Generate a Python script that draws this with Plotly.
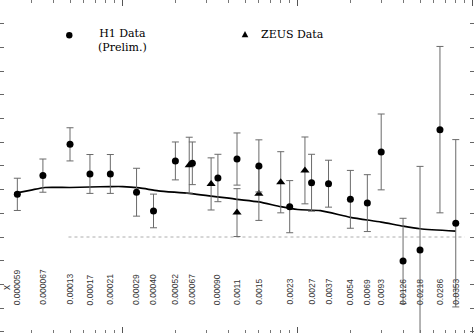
import numpy as np
import plotly.graph_objects as go

# ---------------- data ----------------
# H1 (prelim.) points: Q^2 position, value, symmetric error
h1_q2 = [2.5, 3.5, 5, 6.5, 8.5, 12, 15, 20, 25, 35, 45, 60, 90, 120, 150, 200, 250, 300, 400, 500, 650, 800]
h1_val = [1.80, 2.59, 3.91, 2.66, 2.66, 1.89, 1.10, 3.21, 3.11, 2.49, 3.29, 3.00, 1.28, 2.29, 2.25, 1.59, 1.43, 3.59, -1.01, -0.55, 4.53, 0.58]
h1_err = [0.68, 0.70, 0.70, 0.82, 0.82, 1.01, 0.71, 0.80, 0.90, 1.00, 1.10, 1.10, 1.10, 1.20, 0.99, 1.22, 1.20, 1.60, 1.80, 3.53, 3.51, 3.53]

# x (Bjorken) labels for each H1 bin
x_labels = ["0.000059", "0.000067", "0.00013", "0.00017", "0.00021", "0.00029", "0.00040",
            "0.00052", "0.00067", "0.00090", "0.0011", "0.0015", "0.0023", "0.0027", "0.0037",
            "0.0054", "0.0069", "0.0093", "0.0126", "0.0218", "0.0286", "0.0353"]

# ZEUS points
zeus_q2 = [24, 32, 45, 60, 80, 110]
zeus_val = [3.03, 2.24, 1.03, 1.83, 2.31, 2.81]
zeus_err = [1.18, 1.10, 1.01, 1.13, 1.29, 1.41]

# model curve
curve_q2 = [2.4, 3.0, 3.6, 5, 6.5, 8.5, 10, 12.5, 16, 24, 45, 60, 80, 100, 135, 200, 300, 400, 500, 800]
curve_val = [1.84, 1.98, 2.09, 2.09, 2.11, 2.13, 2.13, 2.07, 1.95, 1.84, 1.59, 1.48, 1.28, 1.16, 1.11, 0.83, 0.63, 0.46, 0.35, 0.25]

# dotted reference line
ref_q2 = [4.9, 900]
ref_val = [0, 0]

# axis ticks
x_major = [10, 100, 1000]
x_minor = [m * d for d in (1, 10, 100) for m in range(2, 10)]

W, H = 474, 333
ERRC = "#6a6a6a"

fig = go.Figure()

fig.add_trace(go.Scatter(x=ref_q2, y=ref_val, mode="lines",
                         line=dict(color="#999999", width=0.8, dash="dot"),
                         hoverinfo="skip", showlegend=False))

fig.add_trace(go.Scatter(x=curve_q2, y=curve_val, mode="lines",
                         line=dict(color="black", width=1.7, shape="spline", smoothing=0.6),
                         showlegend=False))

fig.add_trace(go.Scatter(x=zeus_q2, y=zeus_val, mode="markers",
                         marker=dict(symbol="triangle-up", size=8, color="black"),
                         error_y=dict(type="data", array=zeus_err, color=ERRC, thickness=1, width=3.5),
                         showlegend=False))

fig.add_trace(go.Scatter(x=h1_q2, y=h1_val, mode="markers",
                         marker=dict(symbol="circle", size=7, color="black"),
                         error_y=dict(type="data", array=h1_err, color=ERRC, thickness=1, width=3.5),
                         showlegend=False))

# x-bin labels (rotated)
lab_font = dict(family="Liberation Sans, Arial, sans-serif", size=8.5, color="#333333")
for q, t in zip(h1_q2, x_labels):
    fig.add_annotation(x=np.log10(q), y=-2.95, xref="x", yref="y", text=t, showarrow=False,
                       textangle=-90, xanchor="center", yanchor="bottom", font=lab_font)
fig.add_annotation(x=7 / W, y=-2.15, xref="paper", yref="y", text="x", showarrow=False,
                   textangle=-90, xanchor="center", yanchor="middle",
                   font=dict(family="Liberation Sans, Arial, sans-serif", size=10, color="#333333"))

# legend (drawn manually)
leg_font = dict(family="DejaVu Serif, serif", size=11, color="black")
fig.add_annotation(x=122.5 / W, y=1 - 40.7 / H, xref="paper", yref="paper", text="H1 Data<br>(Prelim.)",
                   showarrow=False, xanchor="center", yanchor="middle", align="center", font=leg_font)
fig.add_annotation(x=292.5 / W, y=1 - 35 / H, xref="paper", yref="paper", text="ZEUS Data",
                   showarrow=False, xanchor="center", yanchor="middle", font=leg_font)

cx, cy, r = 69.3, 35.3, 3.2
fig.add_shape(type="circle", xref="paper", yref="paper",
              x0=(cx - r) / W, x1=(cx + r) / W, y0=1 - (cy + r) / H, y1=1 - (cy - r) / H,
              fillcolor="black", line=dict(color="black", width=0))
tx, ty = 245, 34.3
fig.add_shape(type="path", xref="paper", yref="paper",
              path=f"M {(tx-3.3)/W} {1-(ty+3)/H} L {(tx+3.3)/W} {1-(ty+3)/H} L {tx/W} {1-(ty-3.2)/H} Z",
              fillcolor="black", line=dict(color="black", width=0))

fig.update_layout(
    width=W, height=H,
    margin=dict(l=0, r=0, t=0, b=0),
    paper_bgcolor="white", plot_bgcolor="white",
    showlegend=False,
    xaxis=dict(type="log", range=[0.2989, 3.0074], showgrid=False, zeroline=False,
               showline=False, showticklabels=False,
               tickmode="array", tickvals=x_major, ticks="inside", ticklen=6,
               tickcolor="#555555", tickwidth=1, mirror="ticks",
               minor=dict(tickmode="array", tickvals=x_minor, ticks="inside", ticklen=3,
                          tickcolor="#777777", tickwidth=1, showgrid=False)),
    yaxis=dict(range=[-4.05, 10.0], showgrid=False, zeroline=False, showline=False,
               showticklabels=False, dtick=1, tick0=0, ticks="inside", ticklen=4,
               tickcolor="#666666", tickwidth=1, mirror="ticks"),
)

fig.write_html("out.html")
